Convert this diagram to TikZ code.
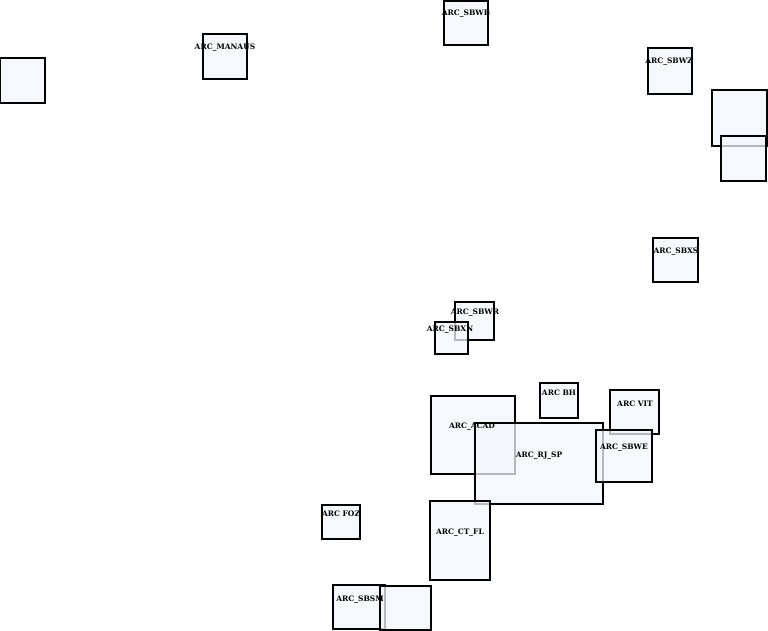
\documentclass[tikz,border=0pt]{standalone}
\usepackage{fontspec}
\setmainfont{DejaVu Serif}
\begin{document}
\begin{tikzpicture}[x=1pt,y=-1pt,
  box/.style={draw=black,line width=1.1pt,fill={rgb,255:red,242;green,247;blue,252},fill opacity=0.75},
  lab/.style={font=\bfseries\fontsize{7.5}{8}\selectfont,inner sep=0.5pt,text=black}]
\useasboundingbox (0,0) rectangle (768,631);
\draw[box] (0,58) rectangle (45,103);
\draw[box] (203,34) rectangle (247,79);
\draw[box] (444,1) rectangle (488,45);
\draw[box] (648,48) rectangle (692,94);
\draw[box] (712,90) rectangle (767,146);
\draw[box] (721,136) rectangle (766,181);
\draw[box] (653,238) rectangle (698,282);
\draw[box] (455,302) rectangle (494,340);
\draw[box] (435,322) rectangle (468,354);
\draw[box] (540,383) rectangle (578,418);
\draw[box] (610,390) rectangle (659,434);
\draw[box] (431,396) rectangle (515,474);
\draw[box] (475,423) rectangle (603,504);
\draw[box] (596,430) rectangle (652,482);
\draw[box] (322,505) rectangle (360,539);
\draw[box] (430,501) rectangle (490,580);
\draw[box] (333,585) rectangle (385,629);
\draw[box] (380,586) rectangle (431,630);
\node[lab] (manaus) at (225,48) {ARC\_MANAUS};
\node[lab] (sbwb) at (466,14) {ARC\_SBWB};
\node[lab] (sbwz) at (669,62) {ARC\_SBWZ};
\node[lab] (sbxs) at (676,252) {ARC\_SBXS};
\node[lab] (sbwr) at (475,313) {ARC\_SBWR};
\node[lab] (sbxn) at (450,330) {ARC\_SBXN};
\node[lab] (bh) at (559,393) {ARC BH};
\node[lab] (vit) at (635,404) {ARC VIT};
\node[lab] (acad) at (472,427) {ARC\_ACAD};
\node[lab] (rjsp) at (539,456) {ARC\_RJ\_SP};
\node[lab] (sbwe) at (624,448) {ARC\_SBWE};
\node[lab] (foz) at (341,514) {ARC FOZ};
\node[lab] (ctfl) at (460,533) {ARC\_CT\_FL};
\node[lab] (sbsm) at (360,600) {ARC\_SBSM};
\end{tikzpicture}
\end{document}
